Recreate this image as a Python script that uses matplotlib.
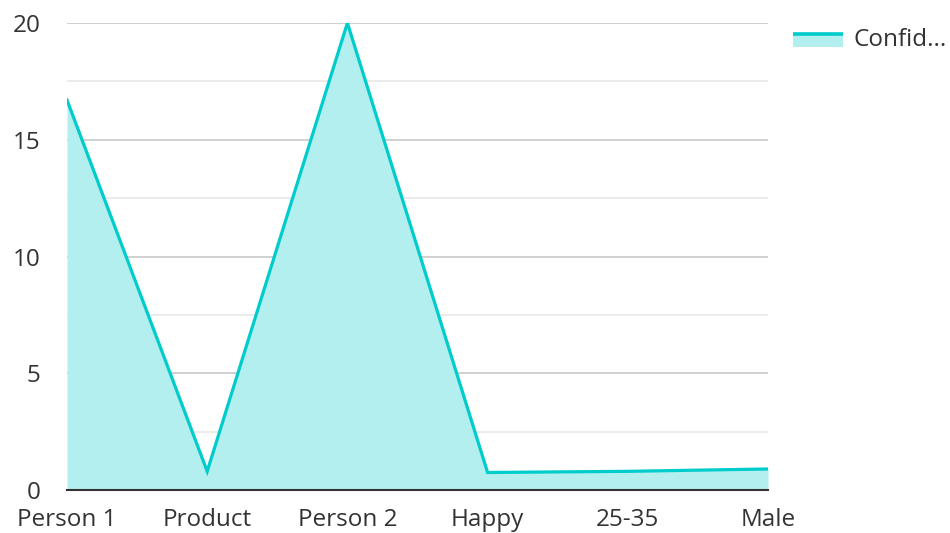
import matplotlib.pyplot as plt
from matplotlib.legend_handler import HandlerBase
from matplotlib.patches import Rectangle
from matplotlib.lines import Line2D

plt.rcParams['font.family'] = ['Open Sans', 'DejaVu Sans']

categories = ["Person 1", "Product", "Person 2", "Happy", "25-35", "Male"]
confidence = [16.7, 0.8, 20.0, 0.75, 0.8, 0.9]
y_ticks = [0, 5, 10, 15, 20]
series_name = "Confid..."

LINE_C = "#00cccc"
FILL_C = "#b2efee"


class AreaHandler(HandlerBase):
    # filled box with the line on top of it, like the area legend key
    def create_artists(self, legend, orig_handle, xdescent, ydescent,
                       width, height, fontsize, trans):
        top = -ydescent + 0.68 * height
        rect = Rectangle((-xdescent, -ydescent - 0.05 * height), width, 0.73 * height,
                         facecolor=FILL_C, edgecolor="none", transform=trans)
        ln = Line2D([-xdescent, -xdescent + width], [top, top],
                    color=LINE_C, lw=2.6, solid_capstyle="butt", transform=trans)
        return [rect, ln]


fig = plt.figure(figsize=(9.5, 5.33), dpi=100)
ax = fig.add_axes([67 / 950, 1 - 490 / 533, (768 - 67) / 950, (490 - 23) / 533])

x = list(range(len(categories)))
ax.fill_between(x, confidence, 0, color=FILL_C, lw=0, zorder=2)
ax.plot(x, confidence, color=LINE_C, lw=2.3, zorder=3, solid_joinstyle="miter")

ax.set_xlim(0, len(categories) - 1)
ax.set_ylim(0, 20)
ax.set_yticks(y_ticks)
ax.set_yticks([2.5, 7.5, 12.5, 17.5], minor=True)
ax.set_xticks(x)
ax.set_xticklabels(categories)

ax.grid(axis="y", which="major", color="#c8c8c8", lw=1.2, zorder=1)
ax.grid(axis="y", which="minor", color="#e8e8e8", lw=1.2, zorder=1)

for s in ["top", "right", "left"]:
    ax.spines[s].set_visible(False)
ax.spines["bottom"].set_color("#333333")
ax.spines["bottom"].set_linewidth(1.5)
ax.spines["bottom"].set_zorder(4)

ax.tick_params(axis="both", which="both", length=0, labelsize=17.5, colors="#333333")
ax.tick_params(axis="y", pad=19)
ax.tick_params(axis="x", pad=13)

handle = Line2D([], [], color=LINE_C)
ax.legend([handle], [series_name], handler_map={Line2D: AreaHandler()},
          loc="upper left", bbox_to_anchor=(793 / 950, 1 - 28 / 533),
          bbox_transform=fig.transFigure, frameon=False, fontsize=17.5,
          borderpad=0, borderaxespad=0,
          handlelength=2.06, handletextpad=0.41, labelcolor="#333333")

fig.savefig("out.png", dpi=100)
